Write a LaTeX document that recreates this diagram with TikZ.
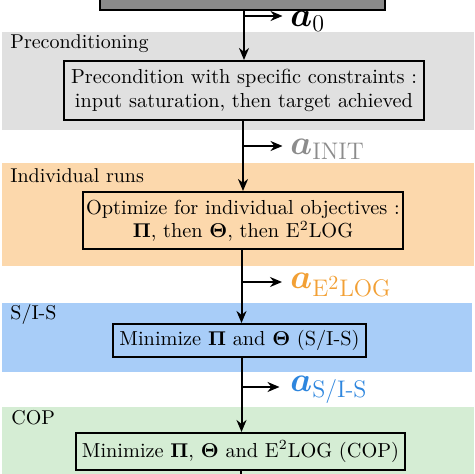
\documentclass[tikz,border=0pt]{standalone}
\usepackage{amsmath,bm}
\usetikzlibrary{arrows.meta}
\definecolor{bandgray}{HTML}{E0E0E0}
\definecolor{bandorange}{HTML}{FCD8AC}
\definecolor{bandblue}{HTML}{A8CDF8}
\definecolor{bandgreen}{HTML}{D5EDD4}
\definecolor{topgray}{HTML}{8A8A8A}
\definecolor{lblgray}{HTML}{8C8C8C}
\definecolor{lblorange}{HTML}{F2A035}
\definecolor{lblblue}{HTML}{2E86DE}
\tikzset{
  stepbox/.style={draw=black, line width=1pt, align=center, inner sep=0pt, font=\fontsize{10.15}{11.6}\selectfont},
  bandlabel/.style={anchor=west, inner sep=0pt, font=\fontsize{10}{12}\selectfont},
  flow/.style={line width=1pt, -{Stealth[length=6pt,width=5pt]}},
  branch/.style={line width=0.8pt, -{Stealth[length=6pt,width=5pt]}},
  outlbl/.style={anchor=west, inner sep=0pt, font=\LARGE}
}
\begin{document}
\begin{tikzpicture}[x=0.5pt,y=-0.5pt]
\useasboundingbox (0,0) rectangle (474,474);
\begin{scope}
\clip (0,0) rectangle (474,474);
% bands
\fill[bandgray] (2,32) rectangle (474,130);
\fill[bandorange] (2,163) rectangle (474,266);
\fill[bandblue] (2,303) rectangle (472,372);
\fill[bandgreen] (2,407) rectangle (474,480);
% top box (cut off)
\node[draw=black, line width=1pt, fill=topgray, minimum width=142.5pt, minimum height=15pt, inner sep=0pt] (top) at (242.5,-5) {};
\end{scope}
% band labels
\node[bandlabel] (lpre) at (10,44) {Preconditioning};
\node[bandlabel] (lind) at (10,176) {Individual runs};
\node[bandlabel] (lsis) at (10,315) {S/I-S};
\node[bandlabel] (lcop) at (11,418) {COP};
% step boxes
\node[stepbox, fill=bandgray, minimum width=180pt, minimum height=29.5pt] (b1) at (244,90.5)
  {Precondition with specific constraints :\\ input saturation, then target achieved};
\node[stepbox, fill=bandorange, minimum width=160pt, minimum height=28.5pt] (b2) at (243,220.5)
  {Optimize for individual objectives :\\ $\boldsymbol{\Pi}$, then $\boldsymbol{\Theta}$, then E$^2$LOG};
\node[stepbox, fill=bandblue, minimum width=126.5pt, minimum height=16.5pt] (b3) at (239.5,340.5)
  {Minimize $\boldsymbol{\Pi}$ and $\boldsymbol{\Theta}$ (S/I-S)};
\node[stepbox, fill=bandgreen, minimum width=164.5pt, minimum height=18.5pt] (b4) at (240.5,451.5)
  {Minimize $\boldsymbol{\Pi}$, $\boldsymbol{\Theta}$ and E$^2$LOG (COP)};
\coordinate (bot) at (241,480);
% main flow
\draw[flow] (top.south -| b1.north) -- (b1.north);
\draw[flow] (b1.south -| b2.north) -- (b2.north);
\draw[flow] (b2.south -| 241.5,0) -- (b3.north -| 241.5,0);
\draw[flow] (b3.south -| 241.5,0) -- (b4.north -| 241.5,0);
\begin{scope}
\clip (0,0) rectangle (474,474);
\draw[line width=1pt] (b4.south -| 241,0) -- (bot);
\end{scope}
% branches
\coordinate (p0) at (243.5,16);
\coordinate (p1) at (243.5,146);
\coordinate (p2) at (242,282);
\coordinate (p3) at (241.5,387);
\node[outlbl] (l0) at (290,21) {$\bm{a}_0$};
\node[outlbl, text=lblgray] (l1) at (290,149) {$\bm{a}_{\mathrm{INIT}}$};
\node[outlbl, text=lblorange] (l2) at (290,285) {$\bm{a}_{\mathrm{E^2LOG}}$};
\node[outlbl, text=lblblue] (l3) at (290,390) {$\bm{a}_{\mathrm{S/I\text{-}S}}$};
\draw[branch] (p0) -- ++(39,0) coordinate (e0);
\draw[branch] (p1) -- ++(39,0) coordinate (e1);
\draw[branch] (p2) -- ++(40,0) coordinate (e2);
\draw[branch] (p3) -- ++(38,0) coordinate (e3);
\end{tikzpicture}
\end{document}
